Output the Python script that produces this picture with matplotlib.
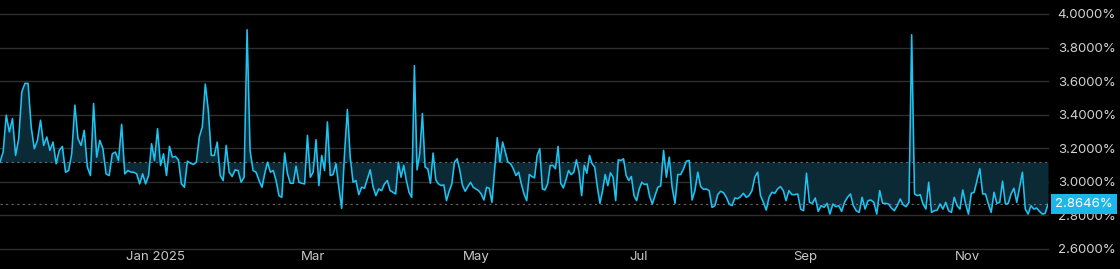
import matplotlib
matplotlib.use("Agg")
import matplotlib.pyplot as plt
import matplotlib.dates as mdates
import pandas as pd
import numpy as np

plt.rcParams['font.family'] = ['Inter', 'DejaVu Sans']

# ---- data (readings, in %) ----
seg1_dates = ("2024-11-04", "2024-12-23")
seg1 = [3.116, 3.176, 3.396, 3.296, 3.376, 3.156, 3.256, 3.536, 3.586, 3.586, 3.326, 3.196, 3.246, 3.366,
        3.216, 3.266, 3.186, 3.236, 3.106, 3.186, 3.210, 3.056, 3.066, 3.166, 3.456, 3.256, 3.216, 3.306,
        3.086, 3.036, 3.466, 3.146, 3.246, 3.196, 3.046, 3.036, 3.166, 3.176, 3.126, 3.342, 3.046, 3.066, 3.056]
seg2_dates = ("2024-12-24", "2025-02-10")
seg2 = [3.056, 3.046, 2.986, 3.046, 2.986, 3.036, 3.226, 3.126, 3.316, 3.096, 3.166, 3.036, 3.210, 3.146,
        3.150, 3.130, 2.986, 2.966, 3.122, 3.110, 3.102, 3.116, 3.266, 3.326, 3.582, 3.426, 3.156, 3.156,
        3.236, 3.036, 3.006, 3.216, 3.056, 3.030, 3.070, 3.066, 2.996, 3.026, 3.906, 3.186, 3.066, 3.056,
        3.006, 2.966]
seg3_dates = ("2025-02-11", "2025-03-31")
seg3 = [3.046, 3.116, 3.056, 3.066, 3.006, 2.916, 2.906, 3.170, 3.046, 2.990, 2.990, 3.092, 2.996, 2.990,
        2.986, 3.276, 3.026, 3.056, 3.250, 2.976, 3.156, 3.066, 3.356, 3.036, 3.042, 3.106, 2.966, 2.840,
        3.166, 3.430, 3.146, 2.996, 3.006, 2.922, 2.966, 2.960, 3.016, 3.070, 2.970, 2.916, 2.956, 2.946,
        2.986, 3.006, 2.946, 2.936]
seg4_dates = ("2025-04-01", "2025-05-19")
seg4 = [2.926, 3.116, 3.026, 3.096, 3.006, 2.936, 2.906, 3.692, 3.070, 3.166, 3.406, 3.086, 3.076, 2.990,
        3.170, 3.010, 2.986, 2.976, 2.980, 2.886, 2.942, 2.986, 3.116, 3.136, 3.066, 2.976, 2.942, 2.970,
        2.996, 2.966, 2.956, 2.946, 2.926, 2.890, 2.966, 2.960, 2.876, 3.066, 3.262, 3.116, 3.236, 3.176,
        3.116, 3.106, 3.076, 3.036, 3.056, 2.986, 2.926]
seg5_dates = ("2025-05-20", "2025-07-06")
seg5 = [2.886, 3.042, 3.030, 3.022, 3.156, 3.196, 2.956, 2.950, 2.986, 3.096, 3.096, 3.076, 3.210, 2.990,
        2.962, 3.010, 3.066, 3.042, 3.056, 3.130, 3.056, 2.916, 3.096, 3.050, 3.156, 3.106, 3.086, 2.966,
        2.870, 2.946, 3.042, 2.976, 3.052, 3.026, 2.886, 3.130, 3.126, 3.136, 3.036, 3.006, 3.030, 2.916,
        2.886, 2.956, 2.996, 2.982, 2.986, 2.910, 2.866]
seg6_dates = ("2025-07-07", "2025-08-24")
seg6 = [2.916, 2.966, 2.974, 3.186, 3.026, 3.146, 2.966, 2.870, 3.042, 3.042, 3.076, 3.122, 3.126, 2.890,
        2.946, 3.056, 2.970, 2.954, 2.956, 2.946, 2.846, 2.856, 2.922, 2.942, 2.934, 2.906, 2.866, 2.856,
        2.902, 2.898, 2.910, 2.930, 2.906, 2.916, 2.946, 3.026, 3.056, 2.916, 2.876, 2.830, 2.906, 2.936,
        2.930, 2.956, 2.970, 2.946]
seg7_dates = ("2025-08-25", "2025-10-10")
seg7 = [2.886, 2.946, 2.922, 2.922, 2.926, 2.836, 2.826, 3.050, 2.876, 2.870, 2.902, 2.822, 2.856, 2.846,
        2.870, 2.806, 2.866, 2.850, 2.856, 2.822, 2.876, 2.906, 2.926, 2.856, 2.826, 2.816, 2.906, 2.836,
        2.886, 2.890, 2.876, 2.806, 2.946, 2.870, 2.870, 2.866, 2.842, 2.826, 2.856, 2.896, 2.862, 2.850,
        2.876]
seg8_dates = ("2025-10-11", "2025-12-01")
seg8 = [3.876, 2.926, 2.916, 2.922, 2.866, 2.836, 2.996, 2.816, 2.826, 2.830, 2.866, 2.836, 2.876, 2.826,
        2.816, 2.906, 2.856, 2.836, 2.950, 2.866, 2.806, 2.930, 2.936, 3.006, 3.076, 2.926, 2.926, 2.866,
        2.816, 2.936, 2.870, 2.876, 3.002, 2.866, 2.870, 2.926, 2.960, 2.876, 2.966, 3.056, 2.836, 2.806,
        2.856, 2.836, 2.842, 2.822, 2.806, 2.810, 2.8646]

segments = [(seg1_dates, seg1), (seg2_dates, seg2), (seg3_dates, seg3), (seg4_dates, seg4),
            (seg5_dates, seg5), (seg6_dates, seg6), (seg7_dates, seg7), (seg8_dates, seg8)]

y_ticks = [2.6, 2.8, 3.0, 3.2, 3.4, 3.6, 3.8, 4.0]
x_ticks = ["2025-01-01", "2025-03-01", "2025-05-01", "2025-07-01", "2025-09-01", "2025-11-01"]
x_tick_labels = ["Jan 2025", "Mar", "May", "Jul", "Sep", "Nov"]
baseline = seg1[0]
last_value = seg8[-1]
x_range = ("2024-11-04", "2025-12-01")

# ---- build series ----
dates_parts, vals_parts = [], []
for (d0, d1), vals in segments:
    dates_parts.append(pd.date_range(pd.Timestamp(d0), pd.Timestamp(d1), periods=len(vals)))
    vals_parts.append(np.array(vals))
dates = pd.DatetimeIndex(np.concatenate([d.values for d in dates_parts]))
values = np.concatenate(vals_parts)

# ---- figure ----
W, H = 1120, 269
fig = plt.figure(figsize=(W / 100, H / 100), dpi=100, facecolor="black")
ax = fig.add_axes([0, (H - 248.6) / H, 1048 / W, (248.6 - 14) / H])
ax.set_facecolor("black")

LINE = "#1cc4f2"
ax.fill_between(dates, values, baseline, color="#0c2936", lw=0, zorder=1)
ax.plot(dates, values, color=LINE, lw=1.15, zorder=3)

for t in y_ticks:
    ax.axhline(t, color="#2e2e2e", lw=1.0, zorder=0, clip_on=False)
ax.axhline(baseline, color="#6a6a6a", lw=0.8, ls=(0, (2, 3)), zorder=2)
ax.axhline(last_value, color="#6a6a6a", lw=0.8, ls=(0, (2, 3)), zorder=2)

ax.set_xlim(pd.Timestamp(x_range[0]), pd.Timestamp(x_range[1]))
ax.set_ylim(2.6, 4.0)

ax.yaxis.tick_right()
ax.set_yticks(y_ticks)
ax.set_yticklabels([f"{t:.4f}%" for t in y_ticks])
ax.set_xticks([pd.Timestamp(t) for t in x_ticks])
ax.set_xticklabels(x_tick_labels)
ax.tick_params(axis="y", length=0, pad=7, labelsize=9.5, labelcolor="#d2d2d2")
ax.tick_params(axis="x", length=0, pad=2, labelsize=9.5, labelcolor="#c8c8c8")
for s in ax.spines.values():
    s.set_visible(False)
ax.grid(False)

ax.annotate(f"{last_value:.4f}%", xy=(1.0, last_value), xycoords=("axes fraction", "data"),
            xytext=(5, 0), textcoords="offset points", ha="left", va="center",
            fontsize=9.5, color="white", zorder=10, annotation_clip=False,
            bbox=dict(boxstyle="square,pad=0.3", fc="#1cb6ea", ec="none"))

fig.savefig("out.png", dpi=100, facecolor="black")
